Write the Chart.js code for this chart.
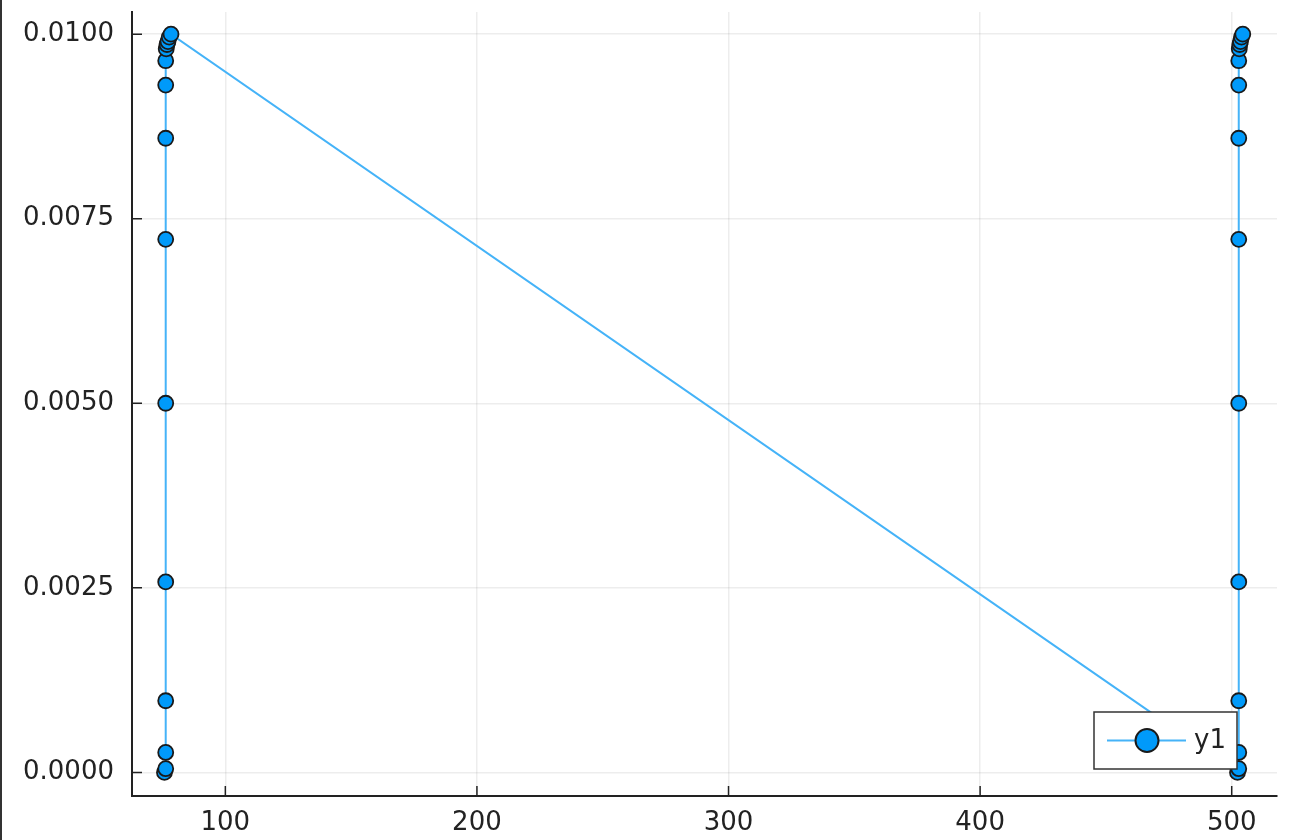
<!DOCTYPE html>
<html>
<head>
<meta charset="utf-8">
<script src="https://cdn.jsdelivr.net/npm/chart.js@4.4.1/dist/chart.umd.min.js"></script>
<style>
  body { margin: 0; background: #fff; }
  #edge { position: absolute; left: 0; top: 0; width: 2px; height: 840px; background: #333; }
  canvas { display: block; }
</style>
</head>
<body>
<div id="edge"></div>
<canvas id="plot" width="1300" height="840"></canvas>
<script>
// series y1: left column (x ~ 76), then right column (x ~ 503)
const xLeft  = [75.8, 76.3, 76.3, 76.3, 76.3, 76.3, 76.3, 76.3, 76.3, 76.3, 76.5, 76.8, 77.2, 77.7, 78.4];
const xRight = [502.3, 502.8, 502.8, 502.8, 502.8, 502.8, 502.8, 502.8, 502.8, 502.8, 503.0, 503.2, 503.5, 503.9, 504.4];
const yValues = [0.0, 0.00005, 0.00027, 0.00097, 0.00258, 0.0050, 0.00722, 0.00859, 0.00931, 0.00964, 0.0098, 0.00986, 0.0099, 0.00996, 0.0100];

const xTicks = [100, 200, 300, 400, 500];
const yTicks = [0.0, 0.0025, 0.0050, 0.0075, 0.0100];
const seriesName = 'y1';

const lineColor = '#45b3f8';
const markerColor = '#009afa';
const fontSpec = { family: 'DejaVu Sans', size: 26 };

// punkty w kolejności rysowania
const points = [];
xLeft.forEach((x, i) => points.push({ x: x, y: yValues[i] }));
xRight.forEach((x, i) => points.push({ x: x, y: yValues[i] }));

// krótkie kreski podziałki do środka wykresu
const innerTicks = {
    id: 'innerTicks',
    afterDatasetsDraw(chart) {
        const ctx = chart.ctx;
        const area = chart.chartArea;
        const sx = chart.scales.x, sy = chart.scales.y;
        ctx.save();
        ctx.strokeStyle = '#222';
        ctx.lineWidth = 1.5;
        ctx.beginPath();
        xTicks.forEach(v => {
            const px = sx.getPixelForValue(v);
            ctx.moveTo(px, area.bottom);
            ctx.lineTo(px, area.bottom - 10);
        });
        yTicks.forEach(v => {
            const py = sy.getPixelForValue(v);
            ctx.moveTo(area.left, py);
            ctx.lineTo(area.left + 10, py);
        });
        ctx.stroke();
        ctx.restore();
    }
};

// legenda w prawym dolnym rogu
const boxLegend = {
    id: 'boxLegend',
    afterDraw(chart) {
        const ctx = chart.ctx;
        const area = chart.chartArea;
        const w = 143, h = 57;
        const left = area.right - 40 - w;
        const top = area.bottom - 27 - h;
        const cy = top + h / 2;
        ctx.save();
        ctx.fillStyle = '#fff';
        ctx.fillRect(left, top, w, h);
        ctx.strokeStyle = '#333';
        ctx.lineWidth = 1.5;
        ctx.strokeRect(left, top, w, h);
        ctx.strokeStyle = lineColor;
        ctx.lineWidth = 2;
        ctx.beginPath();
        ctx.moveTo(left + 13, cy);
        ctx.lineTo(left + 92, cy);
        ctx.stroke();
        ctx.beginPath();
        ctx.arc(left + 53, cy, 11.5, 0, Math.PI * 2);
        ctx.fillStyle = markerColor;
        ctx.fill();
        ctx.strokeStyle = '#1a1a1a';
        ctx.lineWidth = 2;
        ctx.stroke();
        ctx.fillStyle = '#222';
        ctx.font = fontSpec.size + 'px ' + fontSpec.family;
        ctx.textBaseline = 'middle';
        ctx.fillText(seriesName, left + 100, cy + 1);
        ctx.restore();
    }
};

new Chart(document.getElementById('plot'), {
    type: 'scatter',
    data: {
        datasets: [{
            label: seriesName,
            data: points,
            showLine: true,
            borderColor: lineColor,
            borderWidth: 2,
            pointBackgroundColor: markerColor,
            pointBorderColor: '#1a1a1a',
            pointBorderWidth: 1.8,
            pointRadius: 7.5,
            pointHoverRadius: 7.5
        }]
    },
    options: {
        responsive: false,
        devicePixelRatio: 1,
        animation: false,
        layout: { padding: { top: 12, right: 23, left: 0, bottom: 0 } },
        plugins: {
            legend: { display: false },
            tooltip: { enabled: false }
        },
        scales: {
            x: {
                type: 'linear',
                min: 62.9,
                max: 518,
                afterBuildTicks: s => { s.ticks = xTicks.map(v => ({ value: v })); },
                afterFit: s => { s.height = 44; s.paddingLeft = 0; s.paddingRight = 0; },
                grid: { color: 'rgba(0,0,0,0.07)', lineWidth: 1.5, drawTicks: false },
                border: { display: true, color: '#222', width: 2 },
                ticks: { font: fontSpec, color: '#222', padding: 12, maxRotation: 0 }
            },
            y: {
                type: 'linear',
                min: -0.00032,
                max: 0.0103,
                afterBuildTicks: s => { s.ticks = yTicks.map(v => ({ value: v })); },
                afterFit: s => { s.width = 132; s.paddingTop = 0; s.paddingBottom = 0; },
                grid: { color: 'rgba(0,0,0,0.07)', lineWidth: 1.5, drawTicks: false },
                border: { display: true, color: '#222', width: 2 },
                ticks: {
                    font: fontSpec,
                    color: '#222',
                    padding: 18,
                    callback: v => v.toFixed(4)
                }
            }
        }
    },
    plugins: [innerTicks, boxLegend]
});
</script>
</body>
</html>
